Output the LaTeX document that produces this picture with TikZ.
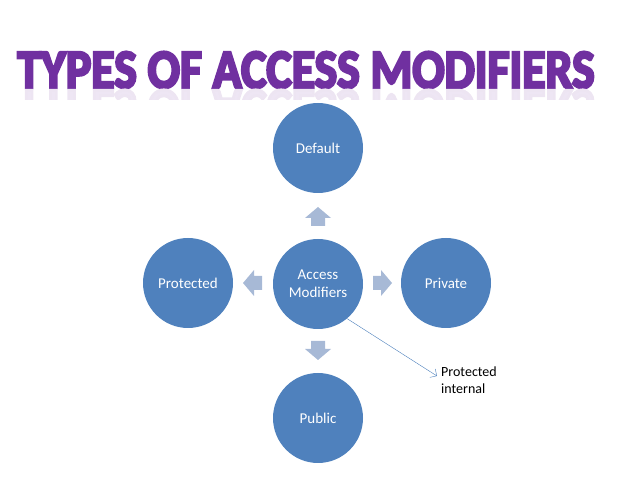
\documentclass[tikz,border=0pt]{standalone}
\usepackage{fontspec}
\setmainfont{Carlito}
\usetikzlibrary{arrows.meta}
\definecolor{circ}{HTML}{4F81BD}
\definecolor{blk}{HTML}{A7B9D6}
\definecolor{ttl}{HTML}{7030A0}
\definecolor{lnc}{HTML}{4A7EBB}
\newcommand{\ttltext}[1]{\special{pdf:literal direct #1 RG 2 Tr 0.5 w}\bfseries TYPES OF ACCESS MODIFIERS\special{pdf:literal direct 0 Tr}}
\begin{document}
\begin{tikzpicture}[x=1pt,y=-1pt,
  bub/.style={circle,fill=circ,minimum size=90pt,inner sep=0pt,text=white,font=\fontsize{15}{18}\selectfont,align=center},
  blkar/.style={fill=blk,draw=none}]
\useasboundingbox (0,0) rectangle (638,478);
\node[text=ttl,inner sep=0pt] (title) at (306,70) {\resizebox{577pt}{36pt}{\ttltext{0.439 0.188 0.627}}};
\begin{scope}
\clip (0,89) rectangle (638,100);
\node[text=ttl!12,inner sep=0pt,yscale=-1] (refl) at (306,108) {\resizebox{577pt}{36pt}{\ttltext{0.93 0.9 0.95}}};
\end{scope}
\node[bub] (def) at (318,148) {Default};
\node[bub] (acc) at (318,284) {Access\\Modifiers};
\node[bub] (pro) at (188,283) {Protected};
\node[bub] (pri) at (446,283) {Private};
\node[bub] (pub) at (318,418) {Public};
% block arrows
\fill[blkar] (311,226)--(311,218)--(305,218)--(318,207)--(331,218)--(325,218)--(325,226)--cycle;
\fill[blkar] (311,341)--(311,349)--(305,349)--(318,360)--(331,349)--(325,349)--(325,341)--cycle;
\fill[blkar] (262,276)--(254,276)--(254,270)--(243,283)--(254,296)--(254,290)--(262,290)--cycle;
\fill[blkar] (373,276)--(381,276)--(381,270)--(392,283)--(381,296)--(381,290)--(373,290)--cycle;
\coordinate (pe) at (437,376);
\draw[lnc,-{Straight Barb[length=5pt]}] (acc.-50) -- (pe);
\node[anchor=north west,align=left,font=\fontsize{14}{17}\selectfont,inner sep=0pt] (pil) at (441,367) {Protected\\internal};
\end{tikzpicture}
\end{document}
